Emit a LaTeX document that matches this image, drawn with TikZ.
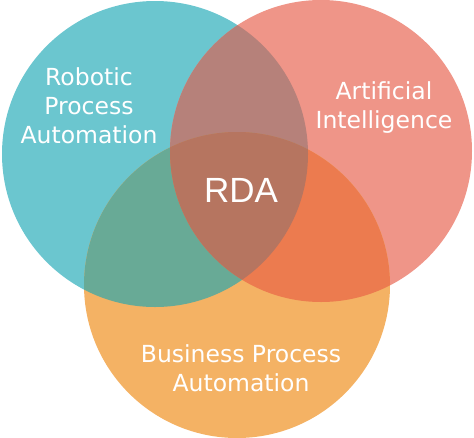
\documentclass[tikz,border=0pt]{standalone}
\usepackage{fontspec}
\setmainfont{DejaVu Sans}
\newfontfamily\rdafont{Liberation Sans}
\definecolor{cTeal}{HTML}{6BC6CF}
\definecolor{cSalmon}{HTML}{EF9588}
\definecolor{cOrange}{HTML}{F4B264}
\definecolor{cTS}{HTML}{B6817A}
\definecolor{cTO}{HTML}{68AA96}
\definecolor{cSO}{HTML}{EC7B4F}
\definecolor{cAll}{HTML}{B67560}
\tikzset{
  lbl/.style={text=white, align=center, font=\fontsize{23.5}{29}\selectfont, inner sep=0pt},
}
\begin{document}
\begin{tikzpicture}[x=1pt,y=-1pt]
\useasboundingbox (0,0) rectangle (474,437);
\coordinate (T) at (155,154);
\coordinate (S) at (321,151);
\coordinate (O) at (237,285);
\def\rT{153pt}\def\rS{151pt}\def\rO{153pt}
% base circles
\fill[cTeal] (T) circle[radius=\rT];
\fill[cSalmon] (S) circle[radius=\rS];
\fill[cOrange] (O) circle[radius=\rO];
% pairwise overlaps
\begin{scope}
  \clip (T) circle[radius=\rT];
  \fill[cTS] (S) circle[radius=\rS];
  \fill[cTO] (O) circle[radius=\rO];
\end{scope}
\begin{scope}
  \clip (S) circle[radius=\rS];
  \fill[cSO] (O) circle[radius=\rO];
  \clip (O) circle[radius=\rO];
  \fill[cAll] (T) circle[radius=\rT];
\end{scope}
% labels
\node[lbl] (rpa) at (89,106) {Robotic\\Process\\Automation};
\node[lbl] (ai) at (384,108) {Artificial\\Intelligence};
\node[lbl] (bpa) at (241,368) {Business Process\\Automation};
\node[text=white, inner sep=0pt, font=\rdafont\fontsize{35}{40}\selectfont] (rda) at (241,190) {RDA};
\end{tikzpicture}
\end{document}
